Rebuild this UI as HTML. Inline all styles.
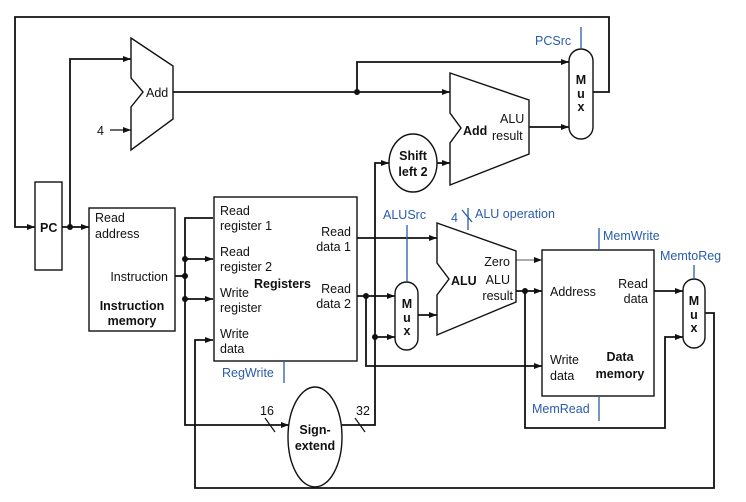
<!DOCTYPE html>
<html><head><meta charset="utf-8"><style>
html,body{margin:0;padding:0;background:#fff}
svg{display:block}
text{font-family:"Liberation Sans",sans-serif;font-size:12.5px;fill:#111}
.b{font-weight:bold}
.bl{fill:#2a5caa}
</style></head><body>
<svg width="746" height="502" viewBox="0 0 746 502" xmlns="http://www.w3.org/2000/svg">
<defs>
<marker id="a" markerWidth="8" markerHeight="6" refX="8" refY="3" orient="auto" markerUnits="userSpaceOnUse">
<path d="M0,0 L8,3 L0,6 z" fill="#111"/></marker>
</defs>
<g fill="none" stroke="#111" stroke-width="1.8">
<polyline points="593,92 609,92 609,17 15,17 15,227 35,227" marker-end="url(#a)"/>
<line x1="62" y1="227" x2="89" y2="227" marker-end="url(#a)"/>
<polyline points="70,227 70,59 131,59" marker-end="url(#a)"/>
<line x1="110" y1="130" x2="131" y2="130" stroke-width="1.2" marker-end="url(#a)"/>
<line x1="173" y1="92" x2="450" y2="92" marker-end="url(#a)"/>
<polyline points="357,92 357,62 569,62" marker-end="url(#a)"/>
<line x1="529" y1="127" x2="569" y2="127" marker-end="url(#a)"/>
<line x1="437" y1="163" x2="450" y2="163" marker-end="url(#a)"/>
<line x1="175" y1="276" x2="185" y2="276"/>
<polyline points="213,218 185,218 185,425 289,425" marker-end="url(#a)"/>
<line x1="185" y1="259" x2="213" y2="259" marker-end="url(#a)"/>
<line x1="185" y1="299" x2="213" y2="299" marker-end="url(#a)"/>
<line x1="265" y1="418" x2="275" y2="432" stroke-width="1.2"/>
<polyline points="342,425 375,425 375,163 389,163" marker-end="url(#a)"/>
<line x1="355" y1="418" x2="365" y2="432" stroke-width="1.2"/>
<line x1="375" y1="337" x2="395" y2="337" marker-end="url(#a)"/>
<line x1="357" y1="238" x2="437" y2="238" marker-end="url(#a)"/>
<line x1="357" y1="296" x2="395" y2="296" marker-end="url(#a)"/>
<polyline points="366,296 366,366 542,366" marker-end="url(#a)"/>
<line x1="418" y1="315" x2="437" y2="315" marker-end="url(#a)"/>
<line x1="516" y1="260" x2="542" y2="260" stroke-width="1" stroke="#555" marker-end="url(#a)"/>
<line x1="516" y1="291" x2="542" y2="291" marker-end="url(#a)"/>
<polyline points="525,291 525,428 665,428 665,337 683,337" marker-end="url(#a)"/>
<line x1="654" y1="291" x2="683" y2="291" marker-end="url(#a)"/>
<polyline points="705,313 714,313 714,488 195,488 195,340 213,340" marker-end="url(#a)"/>
</g>
<g fill="#111">
<circle cx="70" cy="227" r="3"/><circle cx="357" cy="92" r="3"/>
<circle cx="185" cy="259" r="3"/><circle cx="185" cy="276" r="3"/><circle cx="185" cy="299" r="3"/>
<circle cx="366" cy="296" r="3"/><circle cx="375" cy="337" r="3"/><circle cx="525" cy="291" r="3"/>
</g>
<g fill="#fff" stroke="#111" stroke-width="1.4">
<rect x="35" y="182" width="27" height="88"/>
<rect x="89" y="208" width="86" height="123"/>
<rect x="214" y="197" width="143" height="164"/>
<rect x="542" y="250" width="112" height="146"/>
<polygon points="131,38 173,66 173,119 131,150 131,107 143,92 131,78"/>
<polygon points="450,73 529,100 529,154 450,185 450,143 461,128 450,113"/>
<polygon points="437,223 516,251 516,302 437,335 437,295 449,279 437,263"/>
<rect x="569" y="49" width="24" height="90" rx="12"/>
<rect x="395" y="282" width="23" height="68" rx="11.5"/>
<rect x="683" y="279" width="22" height="69" rx="11"/>
<ellipse cx="413" cy="163" rx="24" ry="29"/>
<ellipse cx="315" cy="437" rx="27" ry="50"/>
</g>
<g stroke="#2a5caa" stroke-width="1.3">
<line x1="581" y1="27" x2="581" y2="49"/>
<line x1="407" y1="225" x2="407" y2="282"/>
<line x1="468" y1="208" x2="468" y2="230"/>
<line x1="462" y1="210" x2="472" y2="222"/>
<line x1="599" y1="228" x2="599" y2="250"/>
<line x1="599" y1="396" x2="599" y2="421"/>
<line x1="694" y1="265" x2="694" y2="279"/>
<line x1="284" y1="361" x2="284" y2="383"/>
</g>
<text x="40" y="232" class="b">PC</text>
<text x="146" y="97">Add</text>
<text x="97" y="135">4</text>
<text x="463" y="135" class="b">Add</text>
<text x="500" y="123">ALU</text>
<text x="492" y="140">result</text>
<g class="b" text-anchor="middle">
<text x="581" y="84">M</text><text x="581" y="98">u</text><text x="581" y="111">x</text>
<text x="407" y="308">M</text><text x="407" y="322">u</text><text x="407" y="335">x</text>
<text x="694" y="305">M</text><text x="694" y="319">u</text><text x="694" y="332">x</text>
<text x="413" y="160">Shift</text><text x="413" y="176">left 2</text>
<text x="315" y="434">Sign-</text><text x="315" y="450">extend</text>
<text x="132" y="310">Instruction</text><text x="132" y="325">memory</text>
<text x="620" y="361">Data</text><text x="620" y="378">memory</text>
</g>
<text x="535" y="45" class="bl">PCSrc</text>
<text x="95" y="222">Read</text><text x="95" y="238">address</text>
<text x="168" y="281" text-anchor="end">Instruction</text>
<text x="220" y="215">Read</text><text x="220" y="230">register 1</text>
<text x="220" y="256">Read</text><text x="220" y="271">register 2</text>
<text x="220" y="297">Write</text><text x="220" y="312">register</text>
<text x="220" y="338">Write</text><text x="220" y="353">data</text>
<text x="254" y="288" class="b">Registers</text>
<g text-anchor="end">
<text x="351" y="236">Read</text><text x="351" y="251">data 1</text>
<text x="351" y="293">Read</text><text x="351" y="308">data 2</text>
<text x="510" y="266">Zero</text><text x="510" y="284">ALU</text><text x="513" y="300">result</text>
<text x="648" y="288">Read</text><text x="648" y="303">data</text>
</g>
<text x="222" y="377" class="bl">RegWrite</text>
<text x="260" y="415">16</text>
<text x="356" y="415">32</text>
<text x="383" y="219" class="bl">ALUSrc</text>
<text x="451" y="222" class="bl">4</text>
<text x="475" y="218" class="bl">ALU operation</text>
<text x="451" y="285" class="b">ALU</text>
<text x="550" y="296">Address</text>
<text x="550" y="364">Write</text><text x="550" y="380">data</text>
<text x="603" y="240" class="bl">MemWrite</text>
<text x="532" y="413" class="bl">MemRead</text>
<text x="660" y="260" class="bl">MemtoReg</text>
</svg>
</body></html>
